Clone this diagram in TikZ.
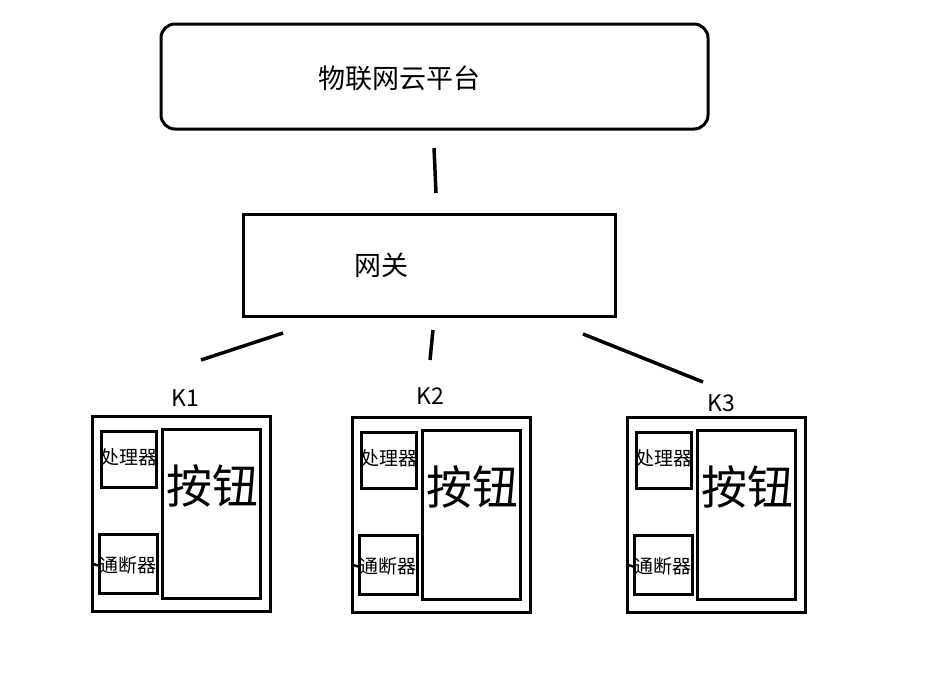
\documentclass[tikz,border=0pt]{standalone}
\usepackage{fontspec}
\setmainfont{Noto Sans CJK SC}
\begin{document}
\begin{tikzpicture}[x=1pt,y=-1pt,
 bx/.style={draw,line width=3pt},
 ln/.style={line width=3.5pt},
 lab/.style={font=\fontsize{#1}{#1}\selectfont,inner sep=0pt}]
\useasboundingbox (0,0) rectangle (933,688);
\draw[bx,rounded corners=14pt] (161,24) rectangle (708,129);
\node[lab=27] (cloud) at (399,78) {物联网云平台};
\draw[bx] (243,214) rectangle (615,316);
\node[lab=27] (gw) at (381,265) {网关};
\coordinate (c1) at (434,148); \coordinate (c2) at (436,193);
\draw[ln] (c1)--(c2);
\coordinate (a1) at (201,360); \coordinate (a2) at (283,333);
\draw[ln] (a1)--(a2);
\coordinate (b1) at (433,330); \coordinate (b2) at (430,360);
\draw[ln] (b1)--(b2);
\coordinate (d1) at (583,334); \coordinate (d2) at (703,382);
\draw[ln] (d1)--(d2);
\foreach \n/\dx/\dy/\lx/\ly in {1/0/0/185/398, 2/260/1/430/396, 3/535/1/721/403}{
 \begin{scope}[shift={(\dx,\dy)}]
 \draw[bx] (92,416) rectangle (270,611);
 \draw[bx] (101,431) rectangle (156,487);
 \draw[bx] (99,534) rectangle (157,593);
 \draw[bx] (162,429) rectangle (260,598);
 \node[lab=19] (p\n) at (129,457) {处理器};
 \node[lab=19] (t\n) at (128,565) {通断器};
 \node[lab=46] (k\n) at (212,486) {按钮};
 \draw[line width=2.5pt] (93,564)--(100,566);
 \end{scope}
 \node[lab=23] (K\n) at (\lx,\ly) {K\n};
}
\end{tikzpicture}
\end{document}
